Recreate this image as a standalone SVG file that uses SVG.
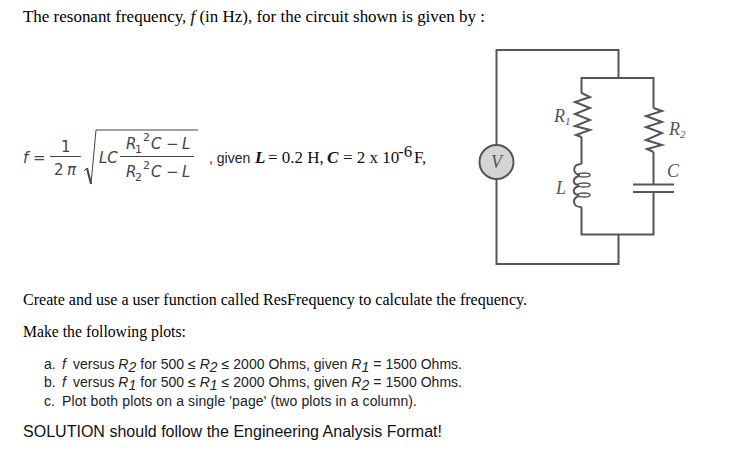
<svg xmlns="http://www.w3.org/2000/svg" width="742" height="475" viewBox="0 0 742 475">
<style>
.s{font-family:"Liberation Serif",serif;font-size:16.500px;fill:#000}
.h{font-family:"Liberation Sans",sans-serif;font-size:14px;fill:#222}
.m{font-family:"DejaVu Sans",sans-serif;font-size:15px;fill:#444}
.u{font-family:"DejaVu Sans",sans-serif;font-size:11px;fill:#444}
.e{font-family:"Liberation Serif",serif;font-size:17px;fill:#111}
.c{font-family:"Liberation Serif",serif;font-size:18px;font-style:italic;fill:#555}
.w{fill:none;stroke:#555;stroke-width:2}
.l{fill:none;stroke:#555;stroke-width:1.500}
.f{fill:none;stroke:#444;stroke-width:1}
</style>
<g id="text">
<text class="s" x="23" y="22" textLength="462" lengthAdjust="spacingAndGlyphs">The resonant frequency, <tspan font-style="italic">f</tspan> (in Hz), for the circuit shown is given by :</text>
<text class="s" x="23" y="305" textLength="504" lengthAdjust="spacingAndGlyphs">Create and use a user function called ResFrequency to calculate the frequency.</text>
<text class="s" x="23" y="337" textLength="163" lengthAdjust="spacingAndGlyphs">Make the following plots:</text>
<text class="h" x="44" y="369">a.</text>
<text class="h" x="62" y="369" font-style="italic">f</text>
<text class="h" x="73" y="369" textLength="389">versus <tspan font-style="italic">R</tspan><tspan font-style="italic" dy="3">2</tspan><tspan dy="-3"> for 500 ≤ </tspan><tspan font-style="italic">R</tspan><tspan font-style="italic" dy="3">2</tspan><tspan dy="-3"> ≤ 2000 Ohms, given </tspan><tspan font-style="italic">R</tspan><tspan font-style="italic" dy="3">1</tspan><tspan dy="-3"> = 1500 Ohms.</tspan></text>
<text class="h" x="44" y="387">b.</text>
<text class="h" x="62" y="387" font-style="italic">f</text>
<text class="h" x="73" y="387" textLength="389">versus <tspan font-style="italic">R</tspan><tspan font-style="italic" dy="3">1</tspan><tspan dy="-3"> for 500 ≤ </tspan><tspan font-style="italic">R</tspan><tspan font-style="italic" dy="3">1</tspan><tspan dy="-3"> ≤ 2000 Ohms, given </tspan><tspan font-style="italic">R</tspan><tspan font-style="italic" dy="3">2</tspan><tspan dy="-3"> = 1500 Ohms.</tspan></text>
<text class="h" x="44" y="406">c.</text>
<text class="h" x="62" y="406" textLength="355">Plot both plots on a single 'page' (two plots in a column).</text>
<text x="23" y="437" font-family="Liberation Sans,sans-serif" font-size="16" fill="#111" textLength="419">SOLUTION should follow the Engineering Analysis Format!</text>
</g>
<g id="formula">
<text class="m" x="23" y="163" font-style="italic">f</text>
<text class="m" x="33" y="163">=</text>
<text class="m" x="61" y="152">1</text>
<line class="f" x1="50" y1="156.500" x2="81" y2="156.500"/>
<text class="m" x="54" y="175">2</text>
<text class="m" x="67" y="175" font-style="italic">π</text>
<polyline class="f" points="84,171 87,168"/>
<polyline points="87,168 91,184" fill="none" stroke="#444" stroke-width="2"/>
<polyline class="f" points="91,184 96,130 198,130"/>
<text class="m" x="99" y="163" font-style="italic">LC</text>
<text class="m" x="126" y="149" font-style="italic">R</text>
<text class="u" x="135" y="153">1</text>
<text class="u" x="143" y="141">2</text>
<text class="m" x="151" y="149" font-style="italic">C</text>
<text class="m" x="166" y="149">−</text>
<text class="m" x="182" y="149" font-style="italic">L</text>
<line class="f" x1="120" y1="156.500" x2="194" y2="156.500"/>
<text class="m" x="126" y="177" font-style="italic">R</text>
<text class="u" x="135" y="181">2</text>
<text class="u" x="143" y="169">2</text>
<text class="m" x="151" y="177" font-style="italic">C</text>
<text class="m" x="166" y="177">−</text>
<text class="m" x="182" y="177" font-style="italic">L</text>
<text class="h" x="209" y="163">, given</text>
<text class="e" x="255" y="163" font-style="italic" font-weight="bold">L</text>
<text class="e" x="268" y="163">= 0.2 H,</text>
<text class="e" x="327" y="163" font-style="italic" font-weight="bold">C</text>
<text class="e" x="343" y="163">= 2 x 10</text>
<text class="e" x="398" y="157">-6</text>
<text class="e" x="414" y="163">F,</text>
</g>
<g id="connectors">
<path class="w" d="M496.500 145V50H618.500V78M581.500 93V78H653.500V108M653.500 152V184.500M653.500 192V234.500H581.500V207M581.500 137V164M618.500 234.500V264H496.500V179"/>
</g>
<g id="node-V">
<circle cx="496.500" cy="162" r="17" fill="#d4d4d4" stroke="#555" stroke-width="2"/>
<text class="c" x="496.500" y="168" text-anchor="middle">V</text>
</g>
<g id="node-R1">
<polyline class="w" points="581.500,93 590,97 575,102 590,108 575,114 590,120 575,126 590,130 576,135 581.500,137"/>
<text class="c" x="554" y="122">R<tspan font-size="11" dy="3">1</tspan></text>
</g>
<g id="node-R2">
<polyline class="w" points="653.500,108 662,111 646,116 662,122 646,127 662,133 646,140 662,145 647,149 653.500,152"/>
<text class="c" x="669" y="135">R<tspan font-size="11" dy="3">2</tspan></text>
</g>
<g id="node-L">
<path class="w" d="M581.500 164C572 164 572 174 580 175M579 176C572 178 572 184 579 185M579 186C572 188 572 194 579 195M579 196C572 198 572 207 581.500 207"/>
<ellipse class="l" cx="584" cy="175" rx="6" ry="2"/>
<ellipse class="l" cx="584" cy="185" rx="6" ry="2"/>
<ellipse class="l" cx="584" cy="195" rx="6" ry="2" fill="#ccc"/>
<text class="c" x="556" y="194">L</text>
</g>
<g id="node-C">
<path class="w" d="M633 184.500H674M633 192H674"/>
<text class="c" x="667" y="177">C</text>
</g>
</svg>
